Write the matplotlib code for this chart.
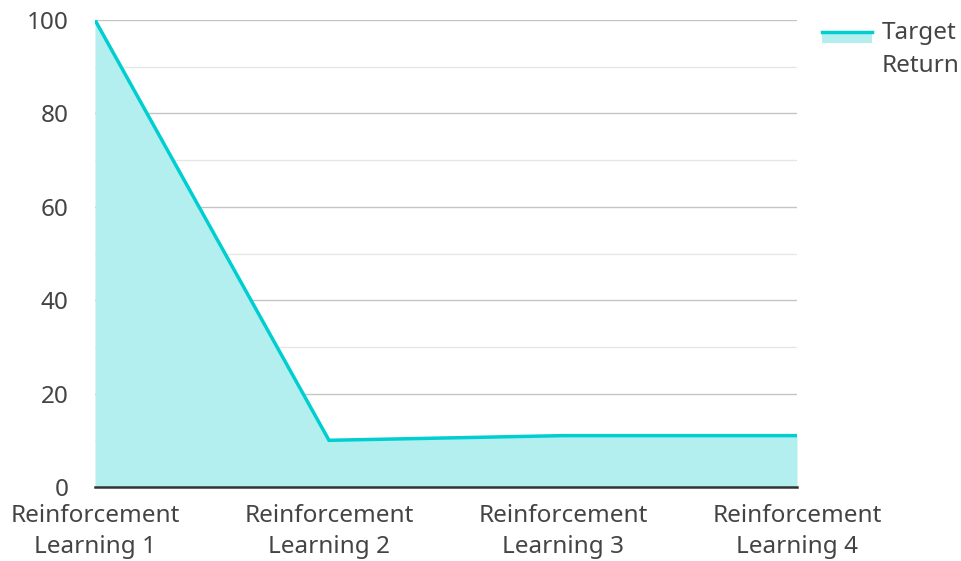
import matplotlib
matplotlib.use("Agg")
import matplotlib.pyplot as plt
from matplotlib.patches import Rectangle
from matplotlib.lines import Line2D

categories = ["Reinforcement\nLearning 1", "Reinforcement\nLearning 2",
              "Reinforcement\nLearning 3", "Reinforcement\nLearning 4"]
target_return = [100, 10, 11, 11]
series_lines = ["Target", "Return"]

plt.rcParams['font.family'] = ['Noto Sans', 'DejaVu Sans']

fig = plt.figure(figsize=(9.62, 5.61), dpi=100)
ax = fig.add_axes([95/962, 1 - 487/561, (797-95)/962, (487-20)/561])

x = list(range(len(categories)))
line_color = "#00CED1"
fill_color = "#B2EFEE"
ax.fill_between(x, target_return, 0, color=fill_color, linewidth=0, zorder=2)
ax.plot(x, target_return, color=line_color, linewidth=2.5, zorder=3, solid_joinstyle='miter')

ax.set_xlim(0, 3)
ax.set_ylim(0, 100)
ax.set_yticks([0, 20, 40, 60, 80, 100])
ax.set_yticks([10, 30, 50, 70, 90], minor=True)
ax.set_xticks(x)
ax.set_xticklabels(categories)
ax.grid(axis='y', which='major', color='#c4c4c4', linewidth=1, zorder=1)
ax.grid(axis='y', which='minor', color='#e6e6e6', linewidth=1, zorder=1)
for s in ['top', 'right', 'left']:
    ax.spines[s].set_visible(False)
ax.spines['bottom'].set_color('#333333')
ax.spines['bottom'].set_linewidth(1.8)
ax.spines['bottom'].set_zorder(4)
ax.tick_params(axis='both', which='both', length=0, labelsize=17.5, labelcolor='#444444')
ax.tick_params(axis='y', pad=19)
ax.tick_params(axis='x', pad=12)
for lbl in ax.get_xticklabels():
    lbl.set_linespacing(1.38)

# legend
fig.patches.append(Rectangle((822/962, 1 - 43/561), 50/962, 12/561,
                             transform=fig.transFigure, facecolor=fill_color, edgecolor='none'))
fig.lines.append(Line2D([822/962, 872/962], [1 - 32/561, 1 - 32/561],
                        transform=fig.transFigure, color=line_color, linewidth=2.5))
fig.text(882/962, 1 - 39/561, series_lines[0], ha='left', va='baseline', fontsize=17.5,
         color='#444444', transform=fig.transFigure)
fig.text(882/962, 1 - 72/561, series_lines[1], ha='left', va='baseline', fontsize=17.5,
         color='#444444', transform=fig.transFigure)

fig.savefig("out.png", dpi=100)
